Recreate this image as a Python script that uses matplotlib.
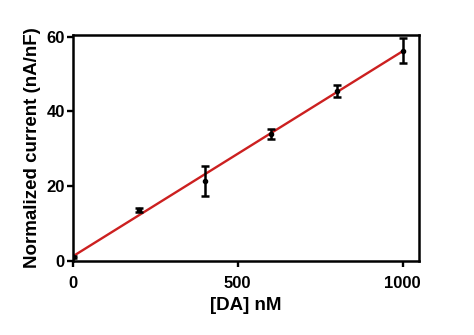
import numpy as np
import matplotlib.pyplot as plt

plt.rcParams['font.family'] = ['Liberation Sans', 'DejaVu Sans']
plt.rcParams['font.weight'] = 'bold'

# dopamine concentration (nM) and normalized current (nA/nF)
conc = [0, 200, 400, 600, 800, 1000]
current = [1.1, 13.7, 21.5, 34.0, 45.5, 56.3]
current_err = [0.3, 0.5, 4.0, 1.3, 1.6, 3.3]

xticks = [0, 500, 1000]
yticks = [0, 20, 40, 60]

fig = plt.figure(figsize=(4.74, 3.35), dpi=100)
ax = fig.add_axes([0.154, 0.221, 0.730, 0.675])

# linear fit
slope, intercept = np.polyfit(conc, current, 1)
xfit = np.array([0, 1000])
ax.plot(xfit, slope * xfit + intercept, color='#cc2020', lw=1.7, zorder=2)

ax.errorbar(conc, current, yerr=current_err, fmt='o', color='black', ms=3,
            elinewidth=1.8, capsize=2.8, capthick=1.8, zorder=3)

ax.set_xlim(0, 1050)
ax.set_ylim(0, 60.5)
ax.set_xticks(xticks)
ax.set_yticks(yticks)
ax.tick_params(direction='out', length=4.5, width=1.7, labelsize=12)
ax.tick_params(axis='x', pad=6)
ax.tick_params(axis='y', pad=1.5)
for s in ax.spines.values():
    s.set_linewidth(1.8)

ax.set_xlabel('[DA] nM', fontsize=13.5, fontweight='bold', labelpad=5)
ax.set_ylabel('Normalized current (nA/nF)', fontsize=13.5, fontweight='bold', labelpad=4)

fig.savefig('out.png', dpi=100)
